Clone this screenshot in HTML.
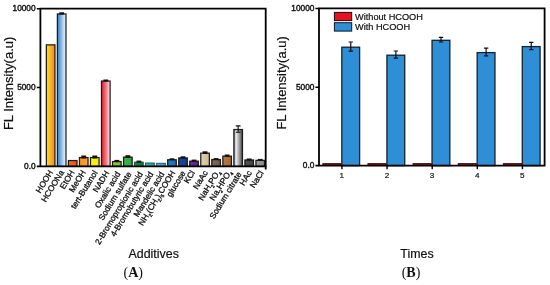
<!DOCTYPE html><html><head><meta charset="utf-8"><title>Figure</title><style>html,body{margin:0;padding:0;background:#fff}svg{display:block}text{font-family:"Liberation Sans",Arial,sans-serif;fill:#111}.s{font-family:"Liberation Serif","Times New Roman",serif}</style></head><body>
<svg width="550" height="285" viewBox="0 0 550 285">
<rect width="550" height="285" fill="#fff"/>
<defs>
<linearGradient id="g0" x1="0" x2="1" y1="0" y2="0"><stop offset="0.08" stop-color="#ffd81a"/><stop offset="0.92" stop-color="#ee8e30"/></linearGradient>
<linearGradient id="g1" x1="0" x2="1" y1="0" y2="0"><stop offset="0.08" stop-color="#4088ca"/><stop offset="0.92" stop-color="#e8f4fc"/></linearGradient>
<linearGradient id="g2" x1="0" x2="1" y1="0" y2="0"><stop offset="0.08" stop-color="#f26a22"/><stop offset="0.92" stop-color="#e8521c"/></linearGradient>
<linearGradient id="g3" x1="0" x2="1" y1="0" y2="0"><stop offset="0.08" stop-color="#f7941d"/><stop offset="0.92" stop-color="#f9a53a"/></linearGradient>
<linearGradient id="g4" x1="0" x2="1" y1="0" y2="0"><stop offset="0.08" stop-color="#fff200"/><stop offset="0.92" stop-color="#f5e72e"/></linearGradient>
<linearGradient id="g5" x1="0" x2="1" y1="0" y2="0"><stop offset="0.1" stop-color="#e62e3a"/><stop offset="0.55" stop-color="#f27a85"/><stop offset="0.95" stop-color="#fde6e8"/></linearGradient>
<linearGradient id="g6" x1="0" x2="1" y1="0" y2="0"><stop offset="0.08" stop-color="#8dc63f"/><stop offset="0.92" stop-color="#7fbf3a"/></linearGradient>
<linearGradient id="g7" x1="0" x2="1" y1="0" y2="0"><stop offset="0.08" stop-color="#3cb54a"/><stop offset="0.92" stop-color="#2fa544"/></linearGradient>
<linearGradient id="g8" x1="0" x2="1" y1="0" y2="0"><stop offset="0.08" stop-color="#0b8a43"/><stop offset="0.92" stop-color="#067a3a"/></linearGradient>
<linearGradient id="g9" x1="0" x2="1" y1="0" y2="0"><stop offset="0.08" stop-color="#2cb8a8"/><stop offset="0.92" stop-color="#1fa596"/></linearGradient>
<linearGradient id="g10" x1="0" x2="1" y1="0" y2="0"><stop offset="0.08" stop-color="#48b0e4"/><stop offset="0.92" stop-color="#309fd8"/></linearGradient>
<linearGradient id="g11" x1="0" x2="1" y1="0" y2="0"><stop offset="0.08" stop-color="#1f7ac4"/><stop offset="0.92" stop-color="#1c6eb4"/></linearGradient>
<linearGradient id="g12" x1="0" x2="1" y1="0" y2="0"><stop offset="0.08" stop-color="#1d44a0"/><stop offset="0.92" stop-color="#1a3a8c"/></linearGradient>
<linearGradient id="g13" x1="0" x2="1" y1="0" y2="0"><stop offset="0.08" stop-color="#6a2c91"/><stop offset="0.92" stop-color="#5c2482"/></linearGradient>
<linearGradient id="g14" x1="0" x2="1" y1="0" y2="0"><stop offset="0.08" stop-color="#ddd0ac"/><stop offset="0.92" stop-color="#cdbd96"/></linearGradient>
<linearGradient id="g15" x1="0" x2="1" y1="0" y2="0"><stop offset="0.08" stop-color="#7d6a57"/><stop offset="0.92" stop-color="#6e5b48"/></linearGradient>
<linearGradient id="g16" x1="0" x2="1" y1="0" y2="0"><stop offset="0.08" stop-color="#b07a45"/><stop offset="0.92" stop-color="#a46c38"/></linearGradient>
<linearGradient id="g17" x1="0" x2="1" y1="0" y2="0"><stop offset="0.05" stop-color="#8a8a8a"/><stop offset="0.25" stop-color="#f0f0f0"/><stop offset="0.95" stop-color="#555555"/></linearGradient>
<linearGradient id="g18" x1="0" x2="1" y1="0" y2="0"><stop offset="0.08" stop-color="#505050"/><stop offset="0.92" stop-color="#444444"/></linearGradient>
<linearGradient id="g19" x1="0" x2="1" y1="0" y2="0"><stop offset="0.08" stop-color="#9a9a9a"/><stop offset="0.92" stop-color="#8a8a8a"/></linearGradient>
</defs>
<rect x="46.35" y="44.85" width="8.60" height="121.55" fill="url(#g0)" stroke="#100c0a" stroke-opacity="0.92" stroke-width="1.25"/>
<rect x="57.38" y="13.95" width="8.60" height="152.45" fill="url(#g1)" stroke="#100c0a" stroke-opacity="0.92" stroke-width="1.25"/>
<rect x="59.28" y="12.30" width="4.8" height="2.20" fill="#111"/>
<rect x="68.41" y="160.55" width="8.60" height="5.85" fill="url(#g2)" stroke="#100c0a" stroke-opacity="0.92" stroke-width="1.25"/>
<rect x="79.44" y="157.55" width="8.60" height="8.85" fill="url(#g3)" stroke="#100c0a" stroke-opacity="0.92" stroke-width="1.25"/>
<rect x="81.34" y="155.50" width="4.8" height="3.00" fill="#111"/>
<rect x="90.47" y="157.55" width="8.60" height="8.85" fill="url(#g4)" stroke="#100c0a" stroke-opacity="0.92" stroke-width="1.25"/>
<rect x="92.37" y="155.50" width="4.8" height="3.00" fill="#111"/>
<rect x="101.50" y="81.05" width="8.60" height="85.35" fill="url(#g5)" stroke="#100c0a" stroke-opacity="0.92" stroke-width="1.25"/>
<rect x="103.40" y="79.50" width="4.8" height="2.00" fill="#111"/>
<rect x="112.53" y="161.55" width="8.60" height="4.85" fill="url(#g6)" stroke="#100c0a" stroke-opacity="0.92" stroke-width="1.25"/>
<rect x="114.43" y="159.90" width="4.8" height="2.20" fill="#111"/>
<rect x="123.56" y="157.15" width="8.60" height="9.25" fill="url(#g7)" stroke="#100c0a" stroke-opacity="0.92" stroke-width="1.25"/>
<rect x="125.46" y="155.20" width="4.8" height="2.80" fill="#111"/>
<rect x="134.49" y="162.05" width="8.80" height="4.35" fill="url(#g8)" stroke="#0c2a30" stroke-opacity="0.8" stroke-width="0.9"/>
<rect x="136.49" y="160.60" width="4.8" height="2.00" fill="#111"/>
<rect x="145.52" y="162.95" width="8.80" height="3.45" fill="url(#g9)" stroke="#0c2a30" stroke-opacity="0.8" stroke-width="0.9"/>
<rect x="156.55" y="163.25" width="8.80" height="3.15" fill="url(#g10)" stroke="#0c2a30" stroke-opacity="0.8" stroke-width="0.9"/>
<rect x="167.68" y="159.75" width="8.60" height="6.65" fill="url(#g11)" stroke="#100c0a" stroke-opacity="0.92" stroke-width="1.25"/>
<rect x="169.58" y="158.30" width="4.8" height="1.80" fill="#111"/>
<rect x="178.71" y="157.95" width="8.60" height="8.45" fill="url(#g12)" stroke="#100c0a" stroke-opacity="0.92" stroke-width="1.25"/>
<rect x="180.61" y="156.30" width="4.8" height="2.20" fill="#111"/>
<rect x="189.74" y="161.15" width="8.60" height="5.25" fill="url(#g13)" stroke="#100c0a" stroke-opacity="0.92" stroke-width="1.25"/>
<rect x="191.64" y="159.60" width="4.8" height="2.00" fill="#111"/>
<rect x="200.77" y="153.15" width="8.60" height="13.25" fill="url(#g14)" stroke="#100c0a" stroke-opacity="0.92" stroke-width="1.25"/>
<rect x="202.67" y="151.30" width="4.8" height="2.60" fill="#111"/>
<rect x="211.80" y="159.55" width="8.60" height="6.85" fill="url(#g15)" stroke="#100c0a" stroke-opacity="0.92" stroke-width="1.25"/>
<rect x="213.70" y="158.10" width="4.8" height="1.80" fill="#111"/>
<rect x="222.83" y="156.15" width="8.60" height="10.25" fill="url(#g16)" stroke="#100c0a" stroke-opacity="0.92" stroke-width="1.25"/>
<rect x="224.73" y="154.50" width="4.8" height="2.20" fill="#111"/>
<rect x="233.86" y="129.55" width="8.60" height="36.85" fill="url(#g17)" stroke="#100c0a" stroke-opacity="0.92" stroke-width="1.25"/>
<path d="M238.16 125.80V132.20M235.76 125.80h4.8M235.76 132.20h4.8" stroke="#111" stroke-width="1.15" fill="none"/>
<rect x="244.89" y="159.95" width="8.60" height="6.45" fill="url(#g18)" stroke="#100c0a" stroke-opacity="0.92" stroke-width="1.25"/>
<rect x="246.79" y="158.50" width="4.8" height="1.80" fill="#111"/>
<rect x="255.92" y="160.35" width="8.60" height="6.05" fill="url(#g19)" stroke="#100c0a" stroke-opacity="0.92" stroke-width="1.25"/>
<rect x="257.82" y="158.90" width="4.8" height="1.80" fill="#111"/>
<path d="M40.4 166.4V8.7H265.7V169.6" fill="none" stroke="#000" stroke-width="1.8"/>
<path d="M36.8 166.4H266.5" fill="none" stroke="#000" stroke-width="1.7"/>
<path d="M36.8 8.7H40.4M36.8 87.6H40.4" fill="none" stroke="#000" stroke-width="1.5"/>
<text x="35.6" y="11.1" font-size="8.3" text-anchor="end" stroke="#111" stroke-width="0.4">10000</text>
<text x="35.6" y="90.0" font-size="8.3" text-anchor="end" stroke="#111" stroke-width="0.4">5000</text>
<text x="35.6" y="168.8" font-size="8.3" text-anchor="end" stroke="#111" stroke-width="0.4">0.0</text>
<text transform="translate(13.4 83.4) rotate(-90)" font-size="13" text-anchor="middle" stroke="#111" stroke-width="0.2">FL Intensity(a.u)</text>
<text transform="translate(53.35 172.30) rotate(-58.5)" font-size="8.35" text-anchor="end" stroke="#111" stroke-width="0.3">HOOH</text>
<text transform="translate(64.38 172.40) rotate(-58.5)" font-size="8.35" text-anchor="end" stroke="#111" stroke-width="0.3">HCOONa</text>
<text transform="translate(75.01 172.40) rotate(-58.5)" font-size="8.35" text-anchor="end" stroke="#111" stroke-width="0.3">EtOH</text>
<text transform="translate(86.04 172.40) rotate(-58.5)" font-size="8.35" text-anchor="end" stroke="#111" stroke-width="0.3">MeOH</text>
<text transform="translate(97.87 172.70) rotate(-58.5)" font-size="8.35" text-anchor="end" stroke="#111" stroke-width="0.3">tert-Butanol</text>
<text transform="translate(109.60 172.90) rotate(-58.5)" font-size="8.35" text-anchor="end" stroke="#111" stroke-width="0.3">NADH</text>
<text transform="translate(120.63 173.90) rotate(-58.5)" font-size="8.35" text-anchor="end" stroke="#111" stroke-width="0.3">Oxalic acid</text>
<text transform="translate(131.86 174.00) rotate(-58.5)" font-size="8.35" text-anchor="end" stroke="#111" stroke-width="0.3">Sodium sulfate</text>
<text transform="translate(143.19 174.00) rotate(-58.5)" font-size="8.35" text-anchor="end" stroke="#111" stroke-width="0.3">2-Bromopropionic acid</text>
<text transform="translate(153.72 174.00) rotate(-58.5)" font-size="8.35" text-anchor="end" stroke="#111" stroke-width="0.3">4-Bromobutyric acid</text>
<text transform="translate(164.75 174.00) rotate(-58.5)" font-size="8.35" text-anchor="end" stroke="#111" stroke-width="0.3">Mandelic acid</text>
<text transform="translate(175.58 172.80) rotate(-58.5)" font-size="8.35" text-anchor="end" stroke="#111" stroke-width="0.3">NH<tspan font-size="4.8" dy="2.4">2</tspan><tspan dy="-2.4">(CH</tspan><tspan font-size="4.8" dy="2.4">2</tspan><tspan dy="-2.4">)</tspan><tspan font-size="4.8" dy="2.4">5</tspan><tspan dy="-2.4">COOH</tspan></text>
<text transform="translate(186.01 173.00) rotate(-58.5)" font-size="8.35" text-anchor="end" stroke="#111" stroke-width="0.3">glucose</text>
<text transform="translate(195.34 172.60) rotate(-58.5)" font-size="8.35" text-anchor="end" stroke="#111" stroke-width="0.3">KCl</text>
<text transform="translate(208.07 172.60) rotate(-58.5)" font-size="8.35" text-anchor="end" stroke="#111" stroke-width="0.3">NaAc</text>
<text transform="translate(220.50 172.10) rotate(-58.5)" font-size="8.35" text-anchor="end" stroke="#111" stroke-width="0.3">NaH<tspan font-size="4.8" dy="2.4">2</tspan><tspan dy="-2.4">PO</tspan><tspan font-size="4.8" dy="2.4">4</tspan></text>
<text transform="translate(231.93 172.10) rotate(-58.5)" font-size="8.35" text-anchor="end" stroke="#111" stroke-width="0.3">Na<tspan font-size="4.8" dy="2.4">2</tspan><tspan dy="-2.4">HPO</tspan><tspan font-size="4.8" dy="2.4">4</tspan></text>
<text transform="translate(241.96 174.10) rotate(-58.5)" font-size="8.35" text-anchor="end" stroke="#111" stroke-width="0.3">Sodium citrate</text>
<text transform="translate(252.19 172.80) rotate(-58.5)" font-size="8.35" text-anchor="end" stroke="#111" stroke-width="0.3">HAc</text>
<text transform="translate(264.02 172.80) rotate(-58.5)" font-size="8.35" text-anchor="end" stroke="#111" stroke-width="0.3">NaCl</text>
<text x="153.7" y="258.3" font-size="12.4" text-anchor="middle" stroke="#111" stroke-width="0.2">Additives</text>
<text class="s" x="133.3" y="276.6" font-size="14" text-anchor="middle">(<tspan font-weight="bold">A</tspan>)</text>
<rect x="322.76" y="163.60" width="18.4" height="2.0" fill="#8a1218" stroke="#2a0808" stroke-width="0.8"/>
<rect x="341.81" y="47.20" width="17.8" height="118.40" fill="#2f8fd6" stroke="#12222e" stroke-width="1.3"/>
<path d="M350.76 42.00V51.20M348.56 42.00h4.4M348.56 51.20h4.4" stroke="#111" stroke-width="1.2" fill="none"/>
<path d="M341.96 165.6v3.6" stroke="#000" stroke-width="1.4"/>
<text x="341.86" y="178.2" font-size="8.1" text-anchor="middle" stroke="#111" stroke-width="0.2">1</text>
<rect x="367.88" y="163.60" width="18.4" height="2.0" fill="#8a1218" stroke="#2a0808" stroke-width="0.8"/>
<rect x="386.93" y="55.20" width="17.8" height="110.40" fill="#2f8fd6" stroke="#12222e" stroke-width="1.3"/>
<path d="M395.88 51.00V58.20M393.68 51.00h4.4M393.68 58.20h4.4" stroke="#111" stroke-width="1.2" fill="none"/>
<path d="M387.08 165.6v3.6" stroke="#000" stroke-width="1.4"/>
<text x="386.98" y="178.2" font-size="8.1" text-anchor="middle" stroke="#111" stroke-width="0.2">2</text>
<rect x="413.00" y="163.60" width="18.4" height="2.0" fill="#8a1218" stroke="#2a0808" stroke-width="0.8"/>
<rect x="432.05" y="40.30" width="17.8" height="125.30" fill="#2f8fd6" stroke="#12222e" stroke-width="1.3"/>
<path d="M441.00 37.40V42.00M438.80 37.40h4.4M438.80 42.00h4.4" stroke="#111" stroke-width="1.2" fill="none"/>
<path d="M432.20 165.6v3.6" stroke="#000" stroke-width="1.4"/>
<text x="432.10" y="178.2" font-size="8.1" text-anchor="middle" stroke="#111" stroke-width="0.2">3</text>
<rect x="458.12" y="163.60" width="18.4" height="2.0" fill="#8a1218" stroke="#2a0808" stroke-width="0.8"/>
<rect x="477.17" y="52.60" width="17.8" height="113.00" fill="#2f8fd6" stroke="#12222e" stroke-width="1.3"/>
<path d="M486.12 48.20V55.80M483.92 48.20h4.4M483.92 55.80h4.4" stroke="#111" stroke-width="1.2" fill="none"/>
<path d="M477.32 165.6v3.6" stroke="#000" stroke-width="1.4"/>
<text x="477.22" y="178.2" font-size="8.1" text-anchor="middle" stroke="#111" stroke-width="0.2">4</text>
<rect x="503.24" y="163.60" width="18.4" height="2.0" fill="#8a1218" stroke="#2a0808" stroke-width="0.8"/>
<rect x="522.29" y="46.60" width="17.8" height="119.00" fill="#2f8fd6" stroke="#12222e" stroke-width="1.3"/>
<path d="M531.24 42.30V49.70M529.04 42.30h4.4M529.04 49.70h4.4" stroke="#111" stroke-width="1.2" fill="none"/>
<path d="M522.44 165.6v3.6" stroke="#000" stroke-width="1.4"/>
<text x="522.34" y="178.2" font-size="8.1" text-anchor="middle" stroke="#111" stroke-width="0.2">5</text>
<path d="M319.0 165.6V8.4H544.6V165.6" fill="none" stroke="#000" stroke-width="1.8"/>
<path d="M315.4 165.6H545.4" fill="none" stroke="#000" stroke-width="1.7"/>
<path d="M315.4 8.4H319.0M315.4 87.2H319.0" fill="none" stroke="#000" stroke-width="1.5"/>
<text x="314.4" y="11.1" font-size="8.3" text-anchor="end" stroke="#111" stroke-width="0.4">10000</text>
<text x="314.4" y="89.9" font-size="8.3" text-anchor="end" stroke="#111" stroke-width="0.4">5000</text>
<text x="314.4" y="168.3" font-size="8.3" text-anchor="end" stroke="#111" stroke-width="0.4">0.0</text>
<text transform="translate(285.7 82.9) rotate(-90)" font-size="13" text-anchor="middle" stroke="#111" stroke-width="0.2">FL Intensity(a.u)</text>
<rect x="334.4" y="12.4" width="17.3" height="8.2" fill="#e8121f" stroke="#1a0a0a" stroke-width="1"/>
<rect x="334.4" y="22.7" width="17.3" height="8.4" fill="#2f8fd6" stroke="#0c1a24" stroke-width="1"/>
<text x="355" y="20" font-size="9.2" stroke="#111" stroke-width="0.2">Without HCOOH</text>
<text x="355" y="30.2" font-size="9.2" stroke="#111" stroke-width="0.2">With HCOOH</text>
<text x="417" y="258.3" font-size="12.4" text-anchor="middle" stroke="#111" stroke-width="0.2">Times</text>
<text class="s" x="411" y="276.6" font-size="14" text-anchor="middle">(<tspan font-weight="bold">B</tspan>)</text>
</svg></body></html>
